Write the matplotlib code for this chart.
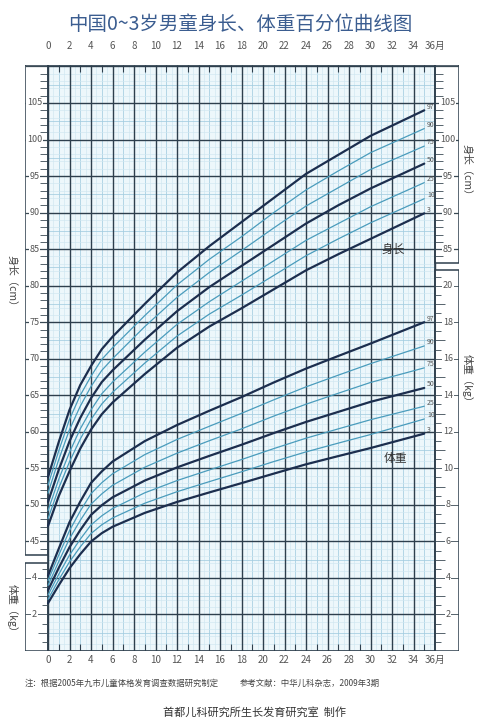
import matplotlib
matplotlib.use('Agg')
import matplotlib.pyplot as plt
from matplotlib.patches import Rectangle

plt.rcParams['font.family'] = ['Noto Sans CJK SC', 'DejaVu Sans']

# ---------------- data ----------------
months = [0, 1, 2, 3, 4, 5, 6, 9, 12, 15, 18, 21, 24, 27, 30, 35]
percentile_labels = ['3', '10', '25', '50', '75', '90', '97']

height_p3 = [47.1, 51.2, 54.6, 57.7, 60.3, 62.4, 64.0, 67.9, 71.5, 74.4, 76.9, 79.5, 82.1, 84.3, 86.4, 89.9]
height_p10 = [48.1, 52.3, 55.9, 59.0, 61.7, 63.8, 65.4, 69.4, 73.1, 76.1, 78.7, 81.4, 84.1, 86.4, 88.6, 91.9]
height_p25 = [49.2, 53.5, 57.2, 60.4, 63.0, 65.2, 66.8, 70.9, 74.7, 77.8, 80.6, 83.4, 86.2, 88.5, 90.8, 94.1]
height_p50 = [50.4, 54.8, 58.7, 61.9, 64.6, 66.8, 68.4, 72.6, 76.5, 79.8, 82.7, 85.6, 88.5, 91.0, 93.3, 96.7]
height_p75 = [51.6, 56.2, 60.3, 63.5, 66.2, 68.4, 70.0, 74.4, 78.4, 81.8, 84.8, 87.9, 90.9, 93.4, 95.9, 99.1]
height_p90 = [52.7, 57.4, 61.7, 65.0, 67.6, 69.9, 71.5, 75.9, 80.1, 83.6, 86.7, 90.0, 93.1, 95.7, 98.2, 101.5]
height_p97 = [53.8, 58.6, 63.0, 66.4, 69.0, 71.3, 73.0, 77.5, 81.8, 85.4, 88.7, 92.0, 95.3, 97.9, 100.5, 104.0]

weight_p3 = [2.62, 3.60, 4.53, 5.30, 5.99, 6.45, 6.80, 7.56, 8.16, 8.68, 9.19, 9.71, 10.22, 10.67, 11.11, 11.9]
weight_p10 = [2.83, 3.90, 4.88, 5.70, 6.43, 6.91, 7.28, 8.09, 8.72, 9.27, 9.81, 10.37, 10.90, 11.38, 11.85, 12.7]
weight_p25 = [3.06, 4.20, 5.25, 6.12, 6.90, 7.40, 7.80, 8.66, 9.33, 9.91, 10.48, 11.08, 11.65, 12.16, 12.66, 13.4]
weight_p50 = [3.32, 4.55, 5.68, 6.62, 7.45, 7.98, 8.41, 9.33, 10.05, 10.68, 11.29, 11.93, 12.54, 13.09, 13.64, 14.4]
weight_p75 = [3.59, 4.90, 6.15, 7.15, 8.04, 8.60, 9.07, 10.06, 10.83, 11.51, 12.16, 12.86, 13.51, 14.11, 14.70, 15.5]
weight_p90 = [3.85, 5.25, 6.59, 7.66, 8.61, 9.21, 9.70, 10.75, 11.58, 12.30, 13.01, 13.75, 14.46, 15.10, 15.73, 16.7]
weight_p97 = [4.12, 5.60, 7.05, 8.18, 9.20, 9.83, 10.37, 11.49, 12.37, 13.15, 13.90, 14.70, 15.46, 16.15, 16.83, 18.0]

x_ticks = list(range(0, 37, 2))
x_ticklabels = [str(m) for m in x_ticks[:-1]] + ['36月']
height_tick_labels_left = list(range(45, 106, 5))
height_tick_labels_right = list(range(85, 106, 5))
weight_tick_labels_left = [2, 4]
weight_tick_labels_right = list(range(2, 21, 2))

heights = [height_p3, height_p10, height_p25, height_p50, height_p75, height_p90, height_p97]
weights = [weight_p3, weight_p10, weight_p25, weight_p50, weight_p75, weight_p90, weight_p97]

# ---------------- layout ----------------
W, H = 479, 725
fig = plt.figure(figsize=(W / 100, H / 100), dpi=100)
fig.patch.set_facecolor('white')

def rect_px(l, t, r, b):
    return [l / W, 1 - b / H, (r - l) / W, (b - t) / H]

ax = fig.add_axes(rect_px(25, 65, 459, 651))
PX_PER_MONTH = 10.75
XLO = (25 - 48) / PX_PER_MONTH
XHI = (459 - 48) / PX_PER_MONTH
YLO, YHI = 30.0, 110.2
ax.set_xlim(XLO, XHI)
ax.set_ylim(YLO, YHI)
axw = ax.twinx()
axw.set_ylim(0, (YHI - YLO) / 2.5)
for a in (ax, axw):
    for s in a.spines.values():
        s.set_visible(False)
    a.set_yticks([])
ax.patch.set_visible(False)

DARK = '#2e3f4d'
GRID_LIGHT = '#cfe6f0'
GRID_MID = '#a3cde0'
BG = '#edf7fb'

# grid background
ax.add_patch(Rectangle((0, YLO), 36, YHI - YLO, facecolor=BG, edgecolor='none', zorder=0))

# vertical grid
for i in range(0, 73):
    m = i * 0.5
    if i % 4 == 0:
        ax.vlines(m, YLO, YHI, color=DARK, lw=1.0, zorder=2)
    elif i % 2 == 0:
        ax.vlines(m, YLO, YHI, color=GRID_MID, lw=0.55, zorder=1)
    else:
        ax.vlines(m, YLO, YHI, color=GRID_LIGHT, lw=0.45, zorder=1)

# horizontal grid (height units, every 0.5 cm)
hval = 30.0
while hval <= YHI + 1e-6:
    k = round(hval * 2)
    if k % 10 == 0:
        ax.hlines(hval, 0, 36, color=DARK, lw=1.0, zorder=2)
    elif k % 5 == 0:
        ax.hlines(hval, 0, 36, color=GRID_MID, lw=0.55, zorder=1)
    elif k % 2 == 0:
        ax.hlines(hval, 0, 36, color=GRID_LIGHT, lw=0.45, zorder=1)
    hval += 0.5

# odd month ticks at top / bottom edges
for m in range(1, 36, 2):
    ax.vlines(m, YHI - 0.9, YHI, color=DARK, lw=0.8, zorder=3)
    ax.vlines(m, YLO, YLO + 0.9, color=DARK, lw=0.8, zorder=3)

# boxes
box_kw = dict(facecolor='white', edgecolor=DARK, lw=1.1, zorder=2)
ax.add_patch(Rectangle((XLO, 43.1), -XLO, YHI - 43.1, **box_kw))
ax.add_patch(Rectangle((XLO, YLO), -XLO, 42.1 - YLO, **box_kw))
ax.add_patch(Rectangle((36, 83.1), XHI - 36, YHI - 83.1, **box_kw))
ax.add_patch(Rectangle((36, YLO), XHI - 36, 82.2 - YLO, **box_kw))
ax.add_patch(Rectangle((0, YLO), 36, YHI - YLO, facecolor='none', edgecolor=DARK, lw=1.2, zorder=4))

TICK_C = '#3a4a55'
LBL_C = '#555555'
lab_kw = dict(fontsize=6.5, color=LBL_C, ha='center', va='center', zorder=6,
              bbox=dict(facecolor='white', edgecolor='none', pad=0.6))

# height strips (left: 44..110, right: 84..110)
for cm in range(44, 111):
    ln = 0.75 if cm % 5 else 2.14
    ax.hlines(cm, -ln, 0, color=TICK_C, lw=0.6 if cm % 5 else 0.9, zorder=3)
for cm in range(84, 111):
    ln = 0.75 if cm % 5 else XHI - 36
    ax.hlines(cm, 36, 36 + ln, color=TICK_C, lw=0.6 if cm % 5 else 0.9, zorder=3)
for v in height_tick_labels_left:
    ax.text(-1.25, v, str(v), **lab_kw)
for v in height_tick_labels_right:
    ax.text(37.2, v, str(v), **lab_kw)

# weight strips (left: 0..4.85, right: 0..20.9)
k = 1
while k * 0.5 < 4.85:
    w = k * 0.5
    ln = 2.14 if k % 4 == 0 else (0.9 if k % 2 == 0 else 0.55)
    axw.hlines(w, -ln, 0, color=TICK_C, lw=0.6, zorder=3)
    k += 1
k = 1
while k * 0.5 < 20.9:
    w = k * 0.5
    ln = (XHI - 36) if k % 4 == 0 else (0.9 if k % 2 == 0 else 0.55)
    axw.hlines(w, 36, 36 + ln, color=TICK_C, lw=0.6, zorder=3)
    k += 1
for v in weight_tick_labels_left:
    axw.text(-1.25, v, str(v), **lab_kw)
for v in weight_tick_labels_right:
    axw.text(37.2, v, str(v), **lab_kw)

# curves
MAIN_C = '#1c2e4e'
SUB_C = '#4a9cbc'
for lab, hv, wv in zip(percentile_labels, heights, weights):
    main = lab in ('3', '50', '97')
    c = MAIN_C if main else SUB_C
    lw = 1.6 if main else 0.9
    ax.plot(months, hv, color=c, lw=lw, zorder=5, solid_capstyle='round')
    axw.plot(months, wv, color=c, lw=lw, zorder=5, solid_capstyle='round')
    ax.text(35.25, hv[-1] + 0.5, lab, fontsize=5, color=LBL_C, ha='left', va='center', zorder=6)
    axw.text(35.25, wv[-1] + 0.2, lab, fontsize=5, color=LBL_C, ha='left', va='center', zorder=6)

ax.text(32.1, 85.0, '身长', fontsize=8.5, color='#333333', ha='center', va='center', zorder=6)
ax.text(32.3, 56.3, '体重', fontsize=8.5, color='#333333', ha='center', va='center', zorder=6)

# month labels
ax.set_xticks(x_ticks)
ax.set_xticklabels(x_ticklabels, fontsize=7, color=LBL_C)
ax.tick_params(axis='x', length=0, pad=3)
top = ax.secondary_xaxis('top')
top.set_xticks(x_ticks)
top.set_xticklabels(x_ticklabels, fontsize=7, color=LBL_C)
top.tick_params(axis='x', length=0, pad=10)
for s in top.spines.values():
    s.set_visible(False)

# axis titles
def ftext(xp, yp, s, **kw):
    fig.text(xp / W, 1 - yp / H, s, **kw)

ax_kw = dict(fontsize=7.5, color='#444444', rotation=270, ha='center', va='center')
ftext(12, 283, '身长（cm）', **ax_kw)
ftext(12, 611, '体重（kg）', **ax_kw)
ftext(467, 172, '身长（cm）', **ax_kw)
ftext(467, 381, '体重（kg）', **ax_kw)

ftext(240, 25, '中国0~3岁男童身长、体重百分位曲线图', fontsize=14, color='#3b5d90',
      ha='center', va='center')
ftext(25, 683, '注：根据2005年九市儿童体格发育调查数据研究制定', fontsize=6, color='#444444',
      ha='left', va='center')
ftext(240, 683, '参考文献：中华儿科杂志，2009年3期', fontsize=6, color='#444444',
      ha='left', va='center')
ftext(255, 712, '首都儿科研究所生长发育研究室  制作', fontsize=8, color='#333333',
      ha='center', va='center')

fig.savefig('out.png', dpi=100)
